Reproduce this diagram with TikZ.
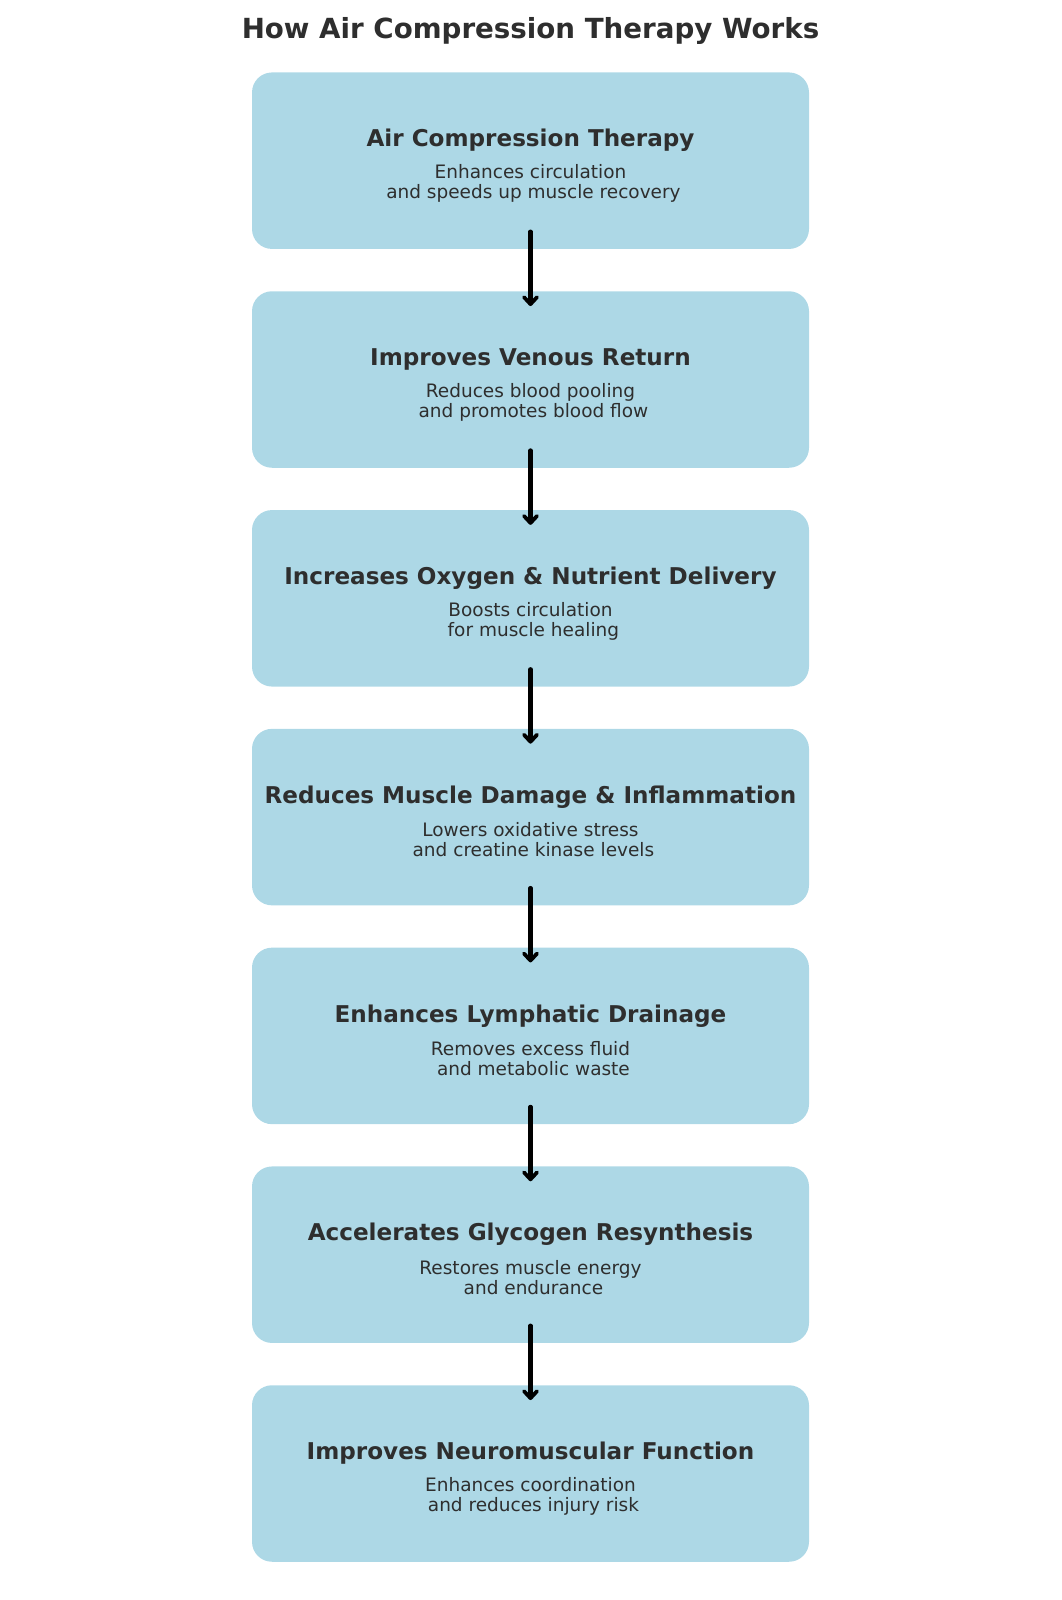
\documentclass[tikz,border=0pt]{standalone}
\usepackage{fontspec}
\setmainfont{DejaVu Sans}
\usepackage{xcolor}
\definecolor{boxblue}{RGB}{173,216,230}
\definecolor{ink}{RGB}{46,46,46}
\usepackage{tikz}
\usetikzlibrary{arrows.meta}

\tikzset{
  stagebox/.style={fill=boxblue, rounded corners=20pt, minimum width=557pt,
    minimum height=176.5pt, inner sep=0pt},
  stagehead/.style={text=ink, font=\bfseries\fontsize{23.1}{27}\selectfont},
  stagenote/.style={text=ink, align=center, font=\fontsize{18.5}{19.9}\selectfont},
  flow/.style={line width=4.2pt, line cap=round,
    -{Straight Barb[length=7pt, width=13pt, line width=3.8pt, round]}}
}

\begin{document}
\begin{tikzpicture}[x=1pt, y=-1pt]
  \useasboundingbox (0,0) rectangle (1061,1600);
  % title
  \node[text=ink, font=\bfseries\fontsize{27.7}{32}\selectfont] (title) at (530.5,30.6) {How Air Compression Therapy Works};
  % stages
  \node[stagebox] (b1) at (530.5,160.7) {};
  \node[stagehead] (h1) at (530.5,140.7) {Air Compression Therapy};
  \node[stagenote] (n1) at (530.5,183.6) {Enhances circulation\\~and speeds up muscle recovery};
  \node[stagebox] (b2) at (530.5,379.5) {};
  \node[stagehead] (h2) at (530.5,359.5) {Improves Venous Return};
  \node[stagenote] (n2) at (530.5,402.4) {Reduces blood pooling\\~and promotes blood flow};
  \node[stagebox] (b3) at (530.5,598.3) {};
  \node[stagehead] (h3) at (530.5,578.3) {Increases Oxygen \& Nutrient Delivery};
  \node[stagenote] (n3) at (530.5,621.2) {Boosts circulation\\~for muscle healing};
  \node[stagebox] (b4) at (530.5,817.1) {};
  \node[stagehead] (h4) at (530.5,797.1) {Reduces Muscle Damage \& Inflammation};
  \node[stagenote] (n4) at (530.5,840.0) {Lowers oxidative stress\\~and creatine kinase levels};
  \node[stagebox] (b5) at (530.5,1035.9) {};
  \node[stagehead] (h5) at (530.5,1015.9) {Enhances Lymphatic Drainage};
  \node[stagenote] (n5) at (530.5,1058.8) {Removes excess fluid\\~and metabolic waste};
  \node[stagebox] (b6) at (530.5,1254.7) {};
  \node[stagehead] (h6) at (530.5,1234.7) {Accelerates Glycogen Resynthesis};
  \node[stagenote] (n6) at (530.5,1277.6) {Restores muscle energy\\~and endurance};
  \node[stagebox] (b7) at (530.5,1473.5) {};
  \node[stagehead] (h7) at (530.5,1453.5) {Improves Neuromuscular Function};
  \node[stagenote] (n7) at (530.5,1496.4) {Enhances coordination\\~and reduces injury risk};
  % arrows
  \draw[flow] ([yshift=17.5pt]b1.south) -- ([yshift=-15pt]b2.north);
  \draw[flow] ([yshift=17.5pt]b2.south) -- ([yshift=-15pt]b3.north);
  \draw[flow] ([yshift=17.5pt]b3.south) -- ([yshift=-15pt]b4.north);
  \draw[flow] ([yshift=17.5pt]b4.south) -- ([yshift=-15pt]b5.north);
  \draw[flow] ([yshift=17.5pt]b5.south) -- ([yshift=-15pt]b6.north);
  \draw[flow] ([yshift=17.5pt]b6.south) -- ([yshift=-15pt]b7.north);
\end{tikzpicture}
\end{document}
